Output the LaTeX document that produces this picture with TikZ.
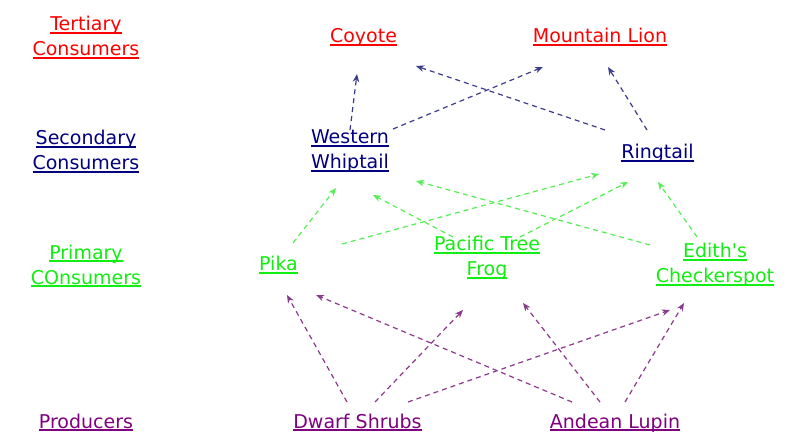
\documentclass[tikz,border=0pt]{standalone}
\usepackage{fontspec}
\newfontfamily\lblfont{DejaVu Sans}
\usetikzlibrary{arrows.meta}
\definecolor{tred}{HTML}{FF0000}
\definecolor{tnavy}{HTML}{000080}
\definecolor{tgreen}{HTML}{11EE11}
\definecolor{tpurple}{HTML}{800080}
\definecolor{anavy}{HTML}{3C3C8C}
\definecolor{agreen}{HTML}{55EE55}
\definecolor{apurple}{HTML}{8A3A8A}
\newcommand{\ulx}[1]{\setbox0\hbox{#1}\rlap{\rule[-2.6pt]{\wd0}{1.4pt}}\box0}
\newcommand{\twol}[2]{\vtop{\baselineskip=25pt\lineskiplimit=-100pt\halign{\hfil##\hfil\cr\ulx{#1}\cr\ulx{#2}\cr}}}
\tikzset{
  lbl/.style={inner sep=0pt, anchor=base, font=\lblfont\fontsize{19}{25}\selectfont},
  feed/.style={dash pattern=on 5pt off 4pt, line width=1.2pt,
    -{Stealth[length=8pt,width=6.5pt,inset=2.5pt]}},
}
\begin{document}
\begin{tikzpicture}[x=1pt,y=-1pt]
\fill[white] (0,0) rectangle (800,446);
\useasboundingbox (0,0) rectangle (800,446);
% level labels
\node[lbl, text=tred] (tert) at (86,31) {\twol{Tertiary}{Consumers}};
\node[lbl, text=tnavy] (sec) at (86,145) {\twol{Secondary}{Consumers}};
\node[lbl, text=tgreen] (prim) at (86,259) {\twol{Primary}{COnsumers}};
\node[lbl, text=tpurple] (prod) at (86,428) {\ulx{Producers}};
% organisms
\node[lbl, text=tred] (coyote) at (363.5,43) {\ulx{Coyote}};
\node[lbl, text=tred] (lion) at (600,43) {\ulx{Mountain Lion}};
\node[lbl, text=tnavy] (whip) at (350,144) {\twol{Western}{Whiptail}};
\node[lbl, text=tnavy] (ring) at (657.5,159) {\ulx{Ringtail}};
\node[lbl, text=tgreen] (pika) at (278.5,271) {\ulx{Pika}};
\node[lbl, text=tgreen] (frog) at (487,251) {\twol{Pacific Tree}{Frog}};
\node[lbl, text=tgreen] (edith) at (715,258) {\twol{Edith's}{Checkerspot}};
\node[lbl, text=tpurple] (shrub) at (357.5,428) {\ulx{Dwarf Shrubs}};
\node[lbl, text=tpurple] (lupin) at (615,428) {\ulx{Andean Lupin}};
% arrow end points
\coordinate (b1s) at (350,130); \coordinate (b1e) at (357,74);
\coordinate (b2s) at (393,129); \coordinate (b2e) at (543,67);
\coordinate (b3s) at (605,130); \coordinate (b3e) at (416,66);
\coordinate (b4s) at (647,130); \coordinate (b4e) at (608,67);
\coordinate (g1s) at (293,243); \coordinate (g1e) at (336,188);
\coordinate (g2s) at (342,244); \coordinate (g2e) at (599,174);
\coordinate (g3s) at (453,237); \coordinate (g3e) at (373,195);
\coordinate (g4s) at (650,245); \coordinate (g4e) at (416,181);
\coordinate (g5s) at (520,237); \coordinate (g5e) at (628,182);
\coordinate (g6s) at (697,237); \coordinate (g6e) at (658,182);
\coordinate (p1s) at (347,402); \coordinate (p1e) at (287,295);
\coordinate (p2s) at (572,402); \coordinate (p2e) at (316,295);
\coordinate (p3s) at (375,402); \coordinate (p3e) at (463,310);
\coordinate (p4s) at (408,402); \coordinate (p4e) at (670,310);
\coordinate (p5s) at (600,402); \coordinate (p5e) at (523,303);
\coordinate (p6s) at (625,402); \coordinate (p6e) at (684,303);
% secondary -> tertiary
\begin{scope}[draw=anavy, feed]
\draw (b1s) -- (b1e);
\draw (b2s) -- (b2e);
\draw (b3s) -- (b3e);
\draw (b4s) -- (b4e);
\end{scope}
% primary -> secondary
\begin{scope}[draw=agreen, feed]
\draw (g1s) -- (g1e);
\draw (g2s) -- (g2e);
\draw (g3s) -- (g3e);
\draw (g4s) -- (g4e);
\draw (g5s) -- (g5e);
\draw (g6s) -- (g6e);
\end{scope}
% producers -> primary
\begin{scope}[draw=apurple, feed]
\draw (p1s) -- (p1e);
\draw (p2s) -- (p2e);
\draw (p3s) -- (p3e);
\draw (p4s) -- (p4e);
\draw (p5s) -- (p5e);
\draw (p6s) -- (p6e);
\end{scope}
\end{tikzpicture}
\end{document}
